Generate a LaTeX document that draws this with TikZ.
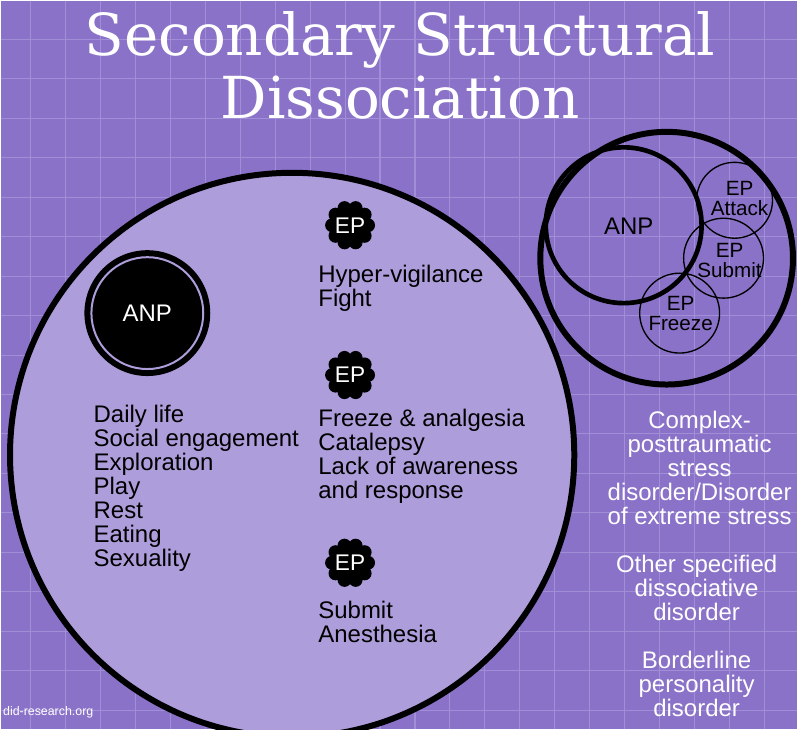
\documentclass[tikz,border=0pt]{standalone}
\usepackage{fontspec}
\setmainfont{Liberation Sans}
\newfontfamily\titlefont{DejaVu Serif}
\definecolor{bgpurple}{HTML}{8A72C8}
\definecolor{gridpurple}{HTML}{A08ED6}
\definecolor{lightpurple}{HTML}{AE9DDB}
\begin{document}
\begin{tikzpicture}[x=0.75pt,y=-0.75pt,
  bigring/.style={draw=black,line width=4.5pt},
  thinring/.style={draw=black,line width=1pt},
  listtext/.style={anchor=north west,align=left,font=\fontsize{18}{18}\selectfont,inner sep=0pt},
  sidetext/.style={align=center,text=white,font=\fontsize{18}{18}\selectfont,inner sep=0pt},
  smalltext/.style={align=center,font=\fontsize{15.5}{15}\selectfont,inner sep=0pt}]
\fill[bgpurple] (0,0) rectangle (798,729);
\foreach \gx in {30,65,...,798} \draw[gridpurple,line width=0.8pt] (\gx,0) -- (\gx,729);
\foreach \gy in {39,78.5,...,729} \draw[gridpurple,line width=0.8pt] (0,\gy) -- (798,\gy);
\useasboundingbox (0,0) rectangle (798,729);
% title
\node[text=white,font=\titlefont\fontsize{43.5}{48}\selectfont,align=center] (title) at (400,65) {Secondary Structural\\Dissociation};
% big circle
\node[circle,bigring,fill=lightpurple,minimum size=565*0.75pt,inner sep=0pt] (main) at (292,455) {};
\node[circle,fill=black,minimum size=126*0.75pt,inner sep=0pt] (anpouter) at (147,313) {};
\node[circle,draw=lightpurple,line width=1.5pt,fill=black,minimum size=112*0.75pt,inner sep=0pt,text=white,font=\fontsize{18}{18}\selectfont] (anp) at (147,313) {ANP};
\foreach \name/\ey in {epa/225,epb/375,epc/563}{
  \fill[black] (350,\ey) circle (20);
  \foreach \k in {0,36,...,324} \fill[black,shift={(350,\ey)}] (\k:18) circle (7);
  \node[text=white,font=\fontsize{17}{18}\selectfont] (\name) at (350,\ey) {EP};
}
\node[listtext] (daily) at (93,405) {Daily life\\Social engagement\\Exploration\\Play\\Rest\\Eating\\Sexuality};
\node[listtext] (fight) at (318,265) {Hyper-vigilance\\Fight};
\node[listtext] (freeze) at (318,409) {Freeze \& analgesia\\Catalepsy\\Lack of awareness\\and response};
\node[listtext] (submit) at (318,601) {Submit\\Anesthesia};
% right diagram
\node[circle,bigring,minimum size=253*0.75pt,inner sep=0pt] (outer) at (667,258) {};
\node[circle,draw=black,line width=3.5pt,minimum size=156*0.75pt,inner sep=0pt] (anpsmall) at (624,225) {};
\node[circle,thinring,minimum size=76*0.75pt,inner sep=0pt] (attack) at (735,200) {};
\node[circle,thinring,minimum size=80*0.75pt,inner sep=0pt] (submitc) at (724,258) {};
\node[circle,thinring,minimum size=80*0.75pt,inner sep=0pt] (freezec) at (680,313) {};
\node[smalltext,font=\fontsize{18}{18}\selectfont] (anplabel) at (629,226) {ANP};
\node[smalltext] (attacklabel) at (740,198) {EP\\Attack};
\node[smalltext] (submitlabel) at (730,260) {EP\\Submit};
\node[smalltext] (freezelabel) at (681,313) {EP\\Freeze};
% diagnoses
\node[sidetext] (cptsd) at (700,468) {Complex-\\posttraumatic\\stress\\disorder/Disorder\\of extreme stress};
\node[sidetext] (osdd) at (697,588) {Other specified\\dissociative\\disorder};
\node[sidetext] (bpd) at (697,684) {Borderline\\personality\\disorder};
\node[anchor=west,text=white,font=\fontsize{9.3}{10}\selectfont,inner sep=1pt] (site) at (1,713) {did-research.org};
\end{tikzpicture}
\end{document}
